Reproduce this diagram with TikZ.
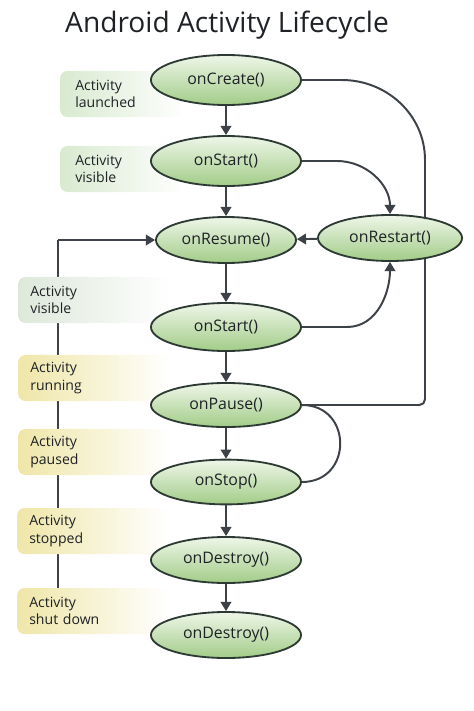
\documentclass[tikz,border=0pt]{standalone}
\usepackage{fontspec}
\setmainfont{Open Sans}
\usetikzlibrary{arrows.meta,positioning,shapes.geometric,backgrounds}
\definecolor{lineGray}{HTML}{3D4248}
\definecolor{rimDark}{HTML}{2D3A33}
\definecolor{cellTop}{HTML}{EEF6E8}
\definecolor{cellBot}{HTML}{A2CC88}
\definecolor{tagGreen}{HTML}{D8EAD0}
\definecolor{tagSage}{HTML}{DDE8DA}
\definecolor{tagYellow}{HTML}{EFE6A8}
\definecolor{ink}{HTML}{1E2226}

\begin{document}
\begin{tikzpicture}[x=0.025cm,y=-0.025cm,>={Triangle[length=6.5pt,width=7.5pt]},
  state/.style={ellipse,draw=rimDark,line width=1.3pt,top color=cellTop,bottom color=cellBot,
    minimum width=3.75cm,minimum height=1.25cm,inner sep=0pt,text=ink,font=\fontsize{11.3}{13}\selectfont},
  flow/.style={draw=lineGray,line width=1.4pt},
  tag/.style={rounded corners=5pt,anchor=west,align=left,minimum height=1.15cm,text=ink,
    font=\fontsize{10}{12.2}\selectfont},
  tagA/.style={tag,text width=2.375cm,inner xsep=0.375cm},
  tagB/.style={tag,text width=3.2cm,inner xsep=0.3cm}]
\useasboundingbox (0,0) rectangle (474,711);
% title
\node[text=ink,font=\fontsize{20}{22}\selectfont] (title) at (227,25) {Android Activity Lifecycle};
% states
\node[state] (create) at (226,80) {onCreate()};
\node[state] (startA) at (226,161) {onStart()};
\node[state,minimum width=3.5cm,minimum height=1.15cm] (resume) at (226,240) {onResume()};
\node[state,minimum width=3.6cm,minimum height=1.15cm] (restart) at (390,238) {onRestart()};
\node[state,minimum height=1.2cm] (startB) at (226,327) {onStart()};
\node[state,minimum height=1.1cm] (pause) at (226,405) {onPause()};
\node[state,minimum height=1.12cm] (stop) at (226,482) {onStop()};
\node[state,minimum height=1.15cm] (destroyA) at (226,560) {onDestroy()};
\node[state,minimum height=1.15cm] (destroyB) at (226,635) {onDestroy()};
% state tags and return line
\begin{scope}[on background layer]
\coordinate (loopStart) at (58,600);
\coordinate (loopTop) at (58,240);
\draw[flow] (loopStart) -- (loopTop);
\node[tagA,left color=tagGreen,middle color=tagGreen!75!white,right color=white] (tagLaunched) at (60,94) {Activity\\launched};
\node[tagA,left color=tagGreen,middle color=tagGreen!75!white,right color=white] (tagVisibleA) at (60,169) {Activity\\visible};
\node[tagB,left color=tagSage,middle color=tagSage!75!white,right color=white] (tagVisibleB) at (18,300) {Activity\\visible};
\node[tagB,left color=tagYellow,middle color=tagYellow!75!white,right color=white] (tagRunning) at (18,378) {Activity\\running};
\node[tagB,left color=tagYellow,middle color=tagYellow!75!white,right color=white] (tagPaused) at (18,452) {Activity\\paused};
\node[tagB,left color=tagYellow,middle color=tagYellow!75!white,right color=white] (tagStopped) at (17,531) {Activity\\stopped};
\node[tagB,left color=tagYellow,middle color=tagYellow!75!white,right color=white] (tagShutdown) at (17,611) {Activity\\shut down};
\end{scope}
\draw[flow,->] (loopTop) -- (resume.west);
% main column
\draw[flow,->] (create) -- (startA);
\draw[flow,->] (startA) -- (resume);
\draw[flow,->] (resume) -- (startB);
\draw[flow,->] (startB) -- (pause);
\draw[flow,->] (pause) -- (stop);
\draw[flow,->] (stop) -- (destroyA);
\draw[flow,->] (destroyA) -- (destroyB);
% restart branch
\coordinate (restartTop) at (425,219);
\coordinate (restartBot) at (425,259);
\draw[flow] (create.east) -- ++(40,0) to[out=0,in=90] (425,160) -- (restartTop);
\draw[flow,->] (startA.east) -- ++(35,0) to[out=0,in=90] (restart.north);
\draw[flow,->] (restart) -- (resume);
\draw[flow,->] (startB.east) -- ++(45,0) to[out=0,in=-90] (restart.south);
\draw[flow,rounded corners=4pt] (pause.east) -| (restartBot);
\draw[flow] (pause.east) to[out=0,in=0,looseness=1.7] (stop.east);
\end{tikzpicture}
\end{document}
